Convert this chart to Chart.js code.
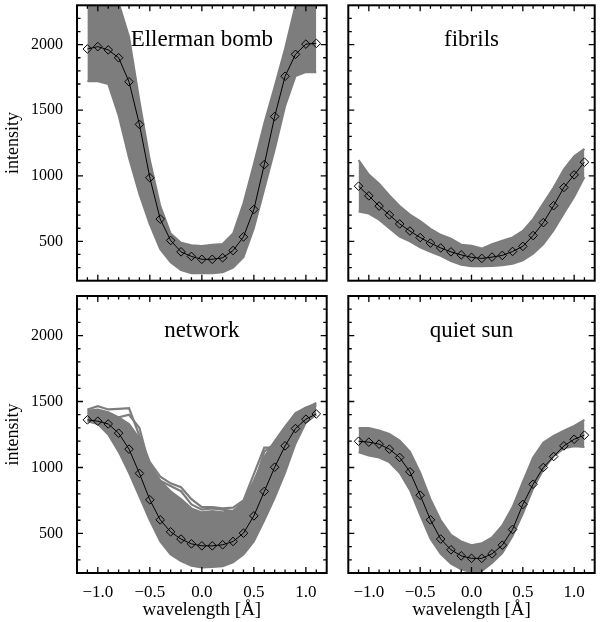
<!DOCTYPE html>
<html>
<head>
<meta charset="utf-8">
<script src="https://cdn.jsdelivr.net/npm/chart.js@4.4.1/dist/chart.umd.min.js"></script>
<style>
  html, body { margin:0; padding:0; background:#fff; }
  #fig { position:relative; width:600px; height:622px; overflow:hidden; background:#fff; }
  #fig canvas { position:absolute; }
</style>
</head>
<body>
<div id="fig">
  <canvas id="pEB" style="left:0;top:0;width:332px;height:286px" width="332" height="286"></canvas>
  <canvas id="pFI" style="left:343px;top:0;width:257px;height:286px" width="257" height="286"></canvas>
  <canvas id="pNW" style="left:0;top:290px;width:332px;height:332px" width="332" height="332"></canvas>
  <canvas id="pQS" style="left:343px;top:290px;width:257px;height:332px" width="257" height="332"></canvas>
</div>
<script>
/* ═══ H-alpha profile panels ═══ */

// wavelength offsets of the sampled line positions [Å]
var WAVE = [-1.1, -1.0, -0.9, -0.8, -0.7, -0.6, -0.5, -0.4, -0.3, -0.2, -0.1, 0.0,
             0.1,  0.2,  0.3,  0.4,  0.5,  0.6,  0.7,  0.8,  0.9,  1.0,  1.1];

var X_TICKS = [-1.0, -0.5, 0.0, 0.5, 1.0];
var Y_TICKS = [500, 1000, 1500, 2000];

// Ellerman bomb
var EB_MEAN = [1967,1985,1960,1900,1717,1392, 985, 670, 507, 420, 385, 363, 363, 375, 430, 534, 743,1085,1452,1759,1926,2004,2010];
var EB_HIGH = [2400,2400,2400,2320,2060,1571,1120, 770, 560, 490, 470, 465, 475, 480, 560, 790,1090,1400,1680,1970,2300,2400,2400];
var EB_LOW  = [1720,1720,1700,1460,1135, 860, 630, 440, 340, 280, 256, 256, 256, 265, 300, 380, 600, 900,1200,1530,1760,1790,1790];

// fibrils
var FI_MEAN = [ 921, 847, 769, 702, 633, 579, 529, 487, 450, 420, 397, 378, 370, 380, 393, 423, 462, 544, 643, 772, 911,1007,1104];
var FI_HIGH = [1120,1010, 940, 850, 770, 705, 655, 595, 550, 520, 475, 467, 445, 478, 505, 530, 580, 670, 790, 910,1050,1150,1205];
var FI_LOW  = [ 728, 712, 665, 600, 535, 500, 455, 420, 390, 350, 322, 311, 311, 312, 318, 330, 356, 405, 480, 585, 715, 840, 990];

// network
var NW_MEAN = [1361,1351,1330,1260,1139, 955, 755, 603, 512, 457, 421, 406, 406, 414, 439, 502, 633, 818,1002,1164,1295,1366,1406];
var NW_HIGH = [1430,1440,1420,1380,1330,1220,1020, 900, 820, 760, 690, 660, 670, 660, 670, 740, 900,1080,1200,1310,1410,1450,1490];
var NW_LOW  = [1350,1330,1250,1120, 960, 780, 600, 440, 340, 290, 255, 242, 245, 252, 280, 340, 440, 600, 770, 960,1180,1340,1400];
var NW_ODD1 = [1440,1465,1440,1445,1450,1240,1040, 930, 880, 850, 760, 700, 700, 690, 695, 750, 950,1150,1150,1300,1410,1455,1480];
var NW_ODD2 = [1410,1420,1400,1380,1400,1300,1000, 900, 860, 820, 720, 680, 690, 680, 670, 720, 860,1120,1180,1280,1390,1440,1470];

// quiet sun
var QS_MEAN = [1199,1192,1177,1139,1076, 967, 790, 603, 457, 376, 330, 311, 311, 345, 411, 530, 720, 873,1000,1083,1164,1214,1245];
var QS_HIGH = [1300,1300,1280,1255,1205,1120, 960, 760, 600, 490, 440, 410, 425, 470, 560, 700, 890,1075,1190,1240,1280,1315,1360];
var QS_LOW  = [1115,1090,1075,1040, 960, 830, 640, 460, 345, 270, 228, 205, 215, 275, 350, 480, 650, 840, 985,1085,1145,1160,1155];

(function () {
  var GREY  = '#7d7d7d';
  var SERIF = '"Liberation Serif", "Times New Roman", Times, serif';

  Chart.defaults.font.family = SERIF;
  Chart.defaults.color = '#000';

  var pts = function(vals) { return vals.map(function(v, i) { return { x: WAVE[i], y: v }; }); };
  var fmtX = function(v) { return Number(v).toFixed(1).replace('-', '\u2212'); };
  var fmtY = function(v) { return String(v); };

  /* ── IDL-style box: frame, inward ticks on all sides, panel label ── */
  var framePlugin = {
    id: 'idlFrame',
    afterDatasetsDraw: function(chart, args, opts) {
      var a = chart.chartArea, c = chart.ctx, xs = chart.scales.x, ys = chart.scales.y;
      c.save();
      c.strokeStyle = '#000';
      c.lineWidth = 1.3;
      c.beginPath();
      for (var i = -11; i <= 11; i++) {
        var px = xs.getPixelForValue(i / 10);
        var lx = (i % 5 === 0) ? 6 : 3.5;
        c.moveTo(px, a.bottom); c.lineTo(px, a.bottom - lx);
        c.moveTo(px, a.top);    c.lineTo(px, a.top + lx);
      }
      for (var v = 300; v <= 2200; v += 100) {
        var py = ys.getPixelForValue(v);
        var ly = (v % 500 === 0) ? 6 : 3.5;
        c.moveTo(a.left, py);  c.lineTo(a.left + ly, py);
        c.moveTo(a.right, py); c.lineTo(a.right - ly, py);
      }
      c.stroke();
      c.lineWidth = 2;
      c.strokeRect(a.left, a.top, a.right - a.left, a.bottom - a.top);
      c.fillStyle = '#000';
      c.font = '23px ' + SERIF;
      c.textAlign = 'center';
      c.textBaseline = 'alphabetic';
      c.fillText(opts.label, (a.left + a.right) / 2, a.top + 40.5);
      c.restore();
    }
  };

  function makePanel(id, label, mean, high, low, extras, showY, showX, pad) {
    var datasets = [
      { data: pts(mean), borderColor: '#000', borderWidth: 1, fill: false, order: 0,
        pointStyle: 'rectRot', pointRadius: 4.3, pointBorderWidth: 1,
        pointBorderColor: '#000', pointBackgroundColor: 'rgba(0,0,0,0)' },
      { data: pts(high), borderColor: GREY, borderWidth: 2, pointRadius: 0, fill: false, order: 2 },
      { data: pts(low),  borderColor: GREY, backgroundColor: GREY, borderWidth: 2, pointRadius: 0, fill: 1, order: 2 }
    ];
    extras.forEach(function(e) {
      datasets.push({ data: pts(e), borderColor: GREY, borderWidth: 2.2, pointRadius: 0, fill: false, order: 1 });
    });

    var xAxis = {
      type: 'linear', min: -1.2, max: 1.2, display: showX,
      grid: { display: false, drawTicks: false }, border: { display: false },
      ticks: { padding: 9, font: { size: 17 }, callback: fmtX },
      afterBuildTicks: function(s) { s.ticks = X_TICKS.map(function(v) { return { value: v }; }); },
      title: { display: showX, text: 'wavelength [\u00c5]', font: { size: 19 }, padding: { top: 0, bottom: 1 } }
    };
    if (showX) xAxis.afterFit = function(s) { s.height = 49; s.paddingLeft = 0; s.paddingRight = 0; };

    var yAxis = {
      type: 'linear', min: 200, max: 2300, display: showY,
      grid: { display: false, drawTicks: false }, border: { display: false },
      ticks: { padding: 14, font: { size: 16 }, callback: fmtY },
      afterBuildTicks: function(s) { s.ticks = Y_TICKS.map(function(v) { return { value: v }; }); },
      title: { display: showY, text: 'intensity', font: { size: 18 }, padding: { top: 2, bottom: 0 } }
    };
    if (showY) yAxis.afterFit = function(s) { s.width = 77; s.paddingTop = 0; s.paddingBottom = 0; };

    return new Chart(document.getElementById(id), {
      type: 'line',
      data: { datasets: datasets },
      plugins: [framePlugin],
      options: {
        responsive: false, animation: false,
        layout: { padding: pad },
        elements: { line: { tension: 0 } },
        plugins: {
          legend: { display: false }, tooltip: { enabled: false },
          idlFrame: { label: label }
        },
        scales: { x: xAxis, y: yAxis }
      }
    });
  }

  /* ── Init ── */
  makePanel('pEB', 'Ellerman bomb', EB_MEAN, EB_HIGH, EB_LOW, [], true,  false, { top: 2, right: 3, bottom: 2, left: 0 });
  makePanel('pFI', 'fibrils',       FI_MEAN, FI_HIGH, FI_LOW, [], false, false, { top: 2, right: 2, bottom: 2, left: 2 });
  makePanel('pNW', 'network',       NW_MEAN, NW_HIGH, NW_LOW, [NW_ODD1, NW_ODD2], true, true, { top: 6, right: 3, bottom: 0, left: 0 });
  makePanel('pQS', 'quiet sun',     QS_MEAN, QS_HIGH, QS_LOW, [], false, true,  { top: 6, right: 2, bottom: 0, left: 2 });
})();
</script>
</body>
</html>
